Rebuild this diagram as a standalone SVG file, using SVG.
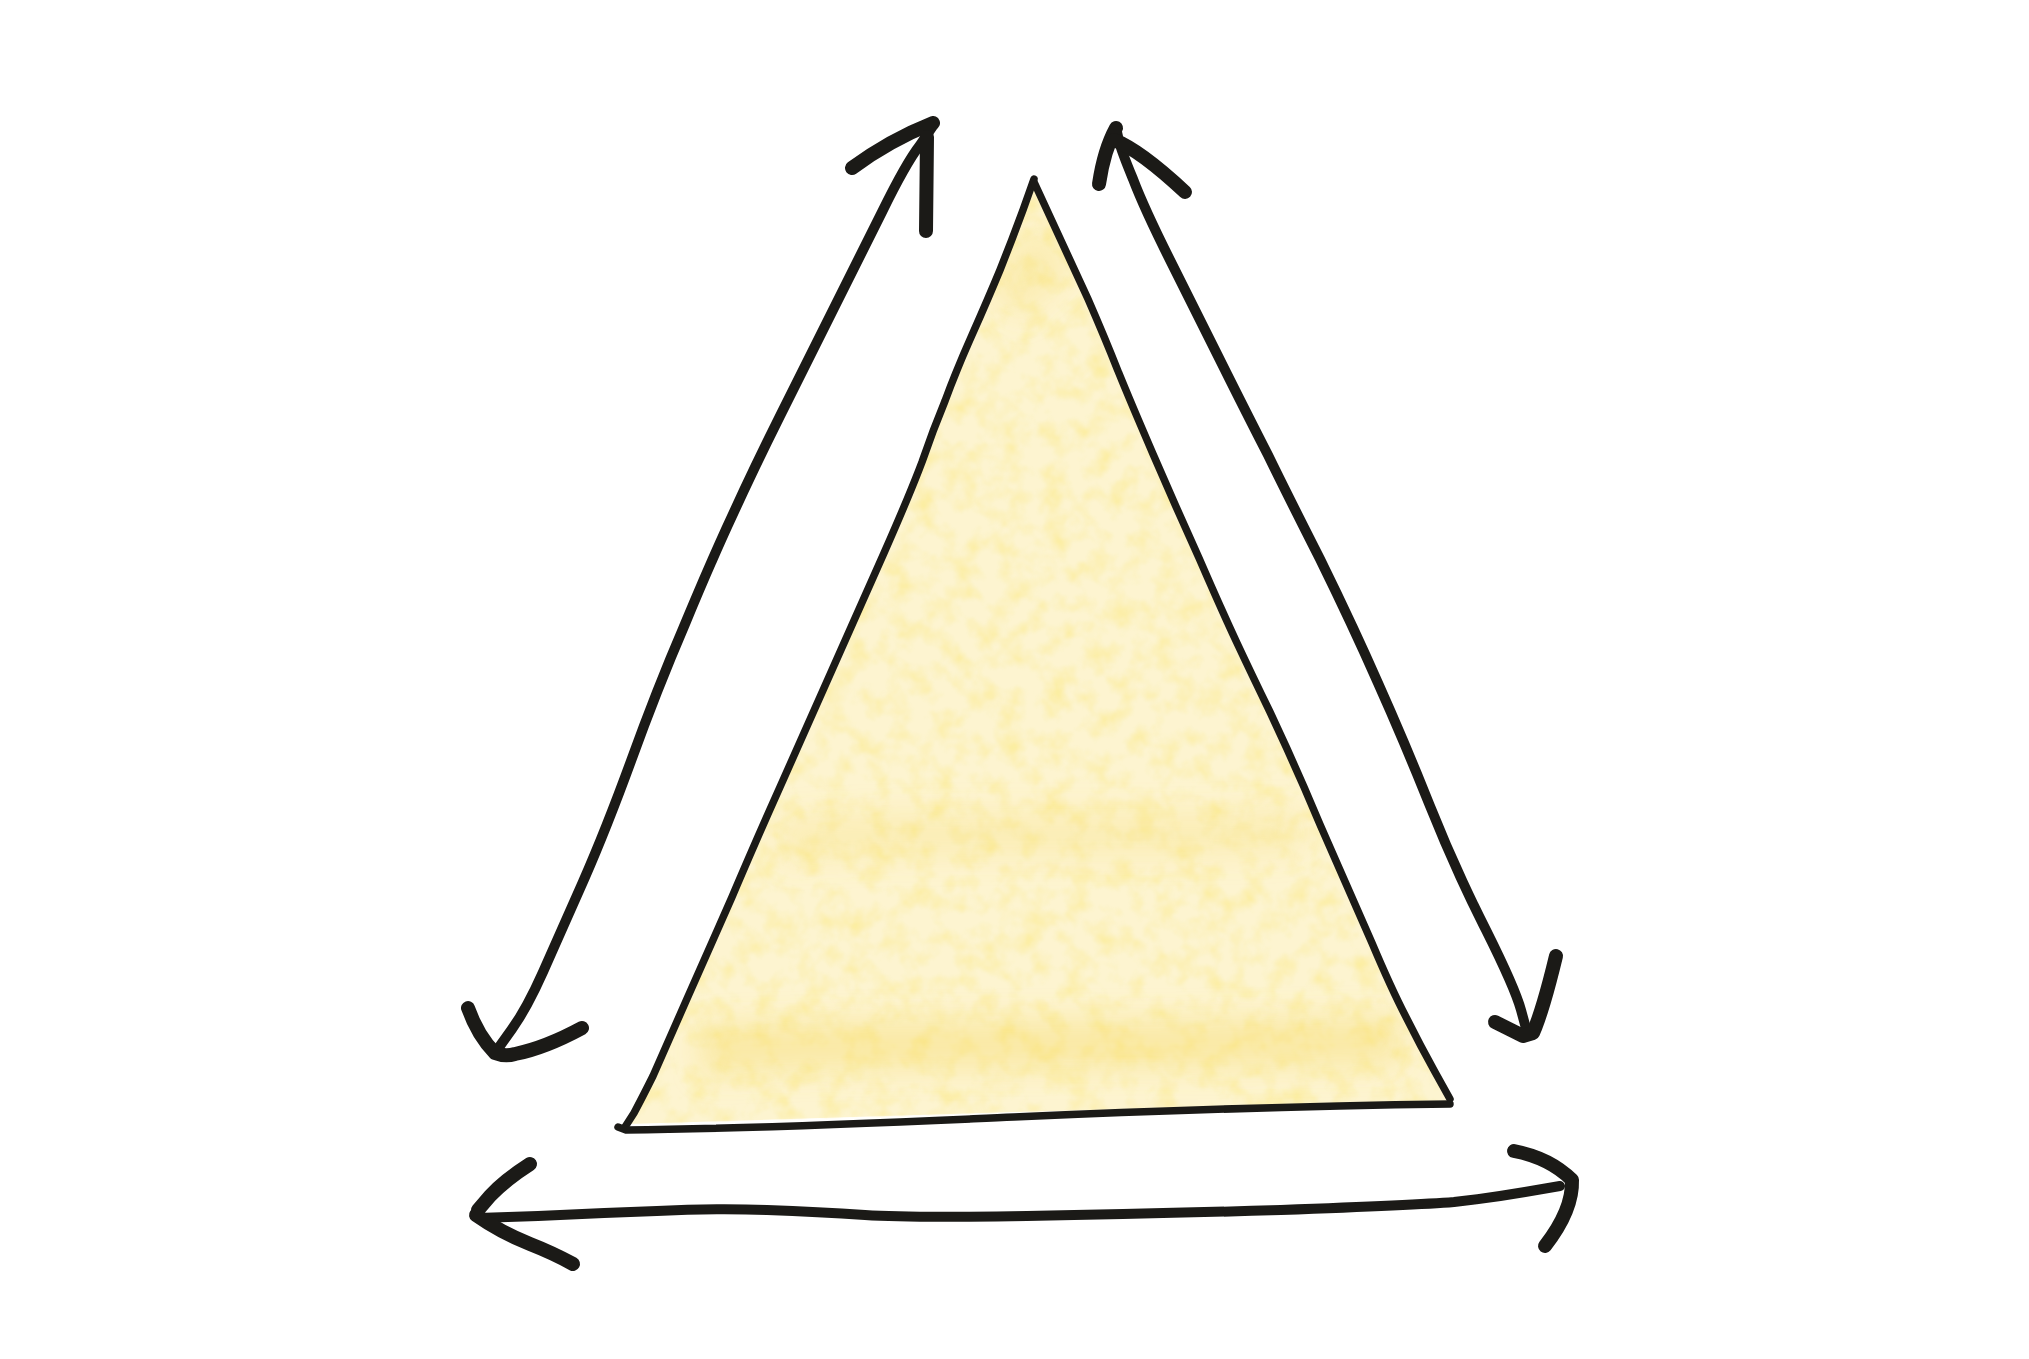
<svg xmlns="http://www.w3.org/2000/svg" width="2029" height="1359" viewBox="0 0 2029 1359">
<style>
.ink{fill:none;stroke:#1b1a17;stroke-linecap:round;stroke-linejoin:round}
.edge{stroke-width:7.5}
.line{stroke-width:10}
.barb{stroke-width:14}
</style>
<defs>
<clipPath id="tri">
<path d="M1034,182 L988,299 L956,371 L910,494 L858,611 L806,728 L754,845 L709,949 L663,1053 L628,1124 L1014,1112 L1448,1101 L1391,988 L1352,897 L1287,748 L1222,611 L1131,403 L1105,338 Z"/>
</clipPath>
<filter id="wash" filterUnits="userSpaceOnUse" x="600" y="160" width="880" height="990">
<feTurbulence type="fractalNoise" baseFrequency="0.045" numOctaves="4" seed="7" result="n"/>
<feColorMatrix in="n" type="matrix" values="0 0 0 0 0.97  0 0 0 0 0.85  0 0 0 0 0.36  2.2 0 0 0 -0.9" result="c"/>
<feComposite in="c" in2="SourceAlpha" operator="in" result="t"/>
<feGaussianBlur in="t" stdDeviation="1.2" result="tb"/>
<feMerge><feMergeNode in="SourceGraphic"/><feMergeNode in="tb"/></feMerge>
</filter>
<filter id="soft" filterUnits="userSpaceOnUse" x="500" y="100" width="1100" height="1100"><feGaussianBlur stdDeviation="14"/></filter>
</defs>
<rect width="2029" height="1359" fill="#ffffff"/>
<g id="triangle">
<path d="M1034,182 L988,299 L956,371 L910,494 L858,611 L806,728 L754,845 L709,949 L663,1053 L628,1124 L1014,1112 L1448,1101 L1391,988 L1352,897 L1287,748 L1222,611 L1131,403 L1105,338 Z" fill="#fdf4d0" filter="url(#wash)"/>
<g clip-path="url(#tri)" fill="none" stroke="#f6d65a" filter="url(#soft)">
<path d="M700,1050 C900,1040 1150,1048 1400,1040" stroke-width="50" opacity="0.35"/>
<path d="M780,840 C950,828 1150,840 1300,830" stroke-width="45" opacity="0.22"/>
<path d="M1000,300 C1020,280 1040,260 1060,250" stroke-width="60" opacity="0.25"/>
</g>
<path class="ink edge" d="M1034,179 L1023,210 Q1012,240 1000,270 Q988,299 972,335 Q956,371 945,401 Q933,430 922,462 Q910,494 884,553 Q858,611 832,670 Q806,728 780,787 Q754,845 732,897 Q709,949 686,1001 Q663,1053 653,1076 Q642,1098 634,1113 L625,1127"/>
<path class="ink edge" d="M1034,182 L1052,221 Q1070,260 1088,299 Q1105,338 1118,371 Q1131,403 1153,454 Q1175,505 1199,558 Q1222,611 1237,643 Q1252,675 1270,712 Q1287,748 1304,787 Q1320,825 1336,861 Q1352,897 1372,943 Q1391,988 1406,1017 Q1420,1045 1435,1072 L1450,1099"/>
<path class="ink edge" d="M618,1127 L626,1130 C780,1128 900,1122 1014,1117 S1300,1106 1450,1104"/>
</g>
<g id="connectors">
<g id="left-arrow">
<path class="ink line" d="M933,126 L920,145 Q906,163 882,212 Q858,260 832,312 Q806,364 780,416 Q754,468 733,514 Q712,559 685,624 Q657,689 631,761 Q605,832 582,884 Q559,936 543,972 Q527,1008 512,1029 L497,1050"/>
<path class="ink barb" d="M852,168 Q890,140 933,123"/>
<path class="ink barb" d="M926,231 L927,137"/>
<path class="ink barb" d="M468,1008 Q478,1036 495,1053 Q505,1057 515,1054 Q545,1048 582,1028"/>
</g>
<g id="right-arrow">
<path class="ink line" d="M1117,132 L1119,141 Q1121,150 1133,179 Q1144,208 1170,260 Q1196,312 1222,364 Q1248,416 1268,455 Q1287,494 1320,559 Q1352,624 1378,683 Q1404,741 1430,806 Q1456,871 1486,930 Q1515,988 1521,1010 L1527,1032"/>
<path class="ink barb" d="M1099,184 Q1104,150 1116,128"/>
<path class="ink barb" d="M1114,140 Q1140,150 1185,192"/>
<path class="ink barb" d="M1556,956 Q1543,1010 1533,1033 L1523,1036 L1495,1022"/>
</g>
<g id="bottom-arrow">
<path class="ink line" d="M478,1218 L538,1216 Q598,1213 657,1211 Q715,1208 767,1210 Q819,1212 865,1215 Q910,1218 1027,1216 Q1144,1214 1281,1210 Q1417,1205 1454,1202 Q1490,1198 1525,1192 L1560,1186"/>
<path class="ink barb" d="M530,1164 Q505,1180 490,1196 L478,1210"/>
<path class="ink barb" d="M476,1215 Q500,1232 530,1244 Q553,1253 573,1264"/>
<path class="ink barb" d="M1514,1151 Q1550,1158 1572,1180 Q1573,1210 1545,1246"/>
</g>
</g>
</svg>
